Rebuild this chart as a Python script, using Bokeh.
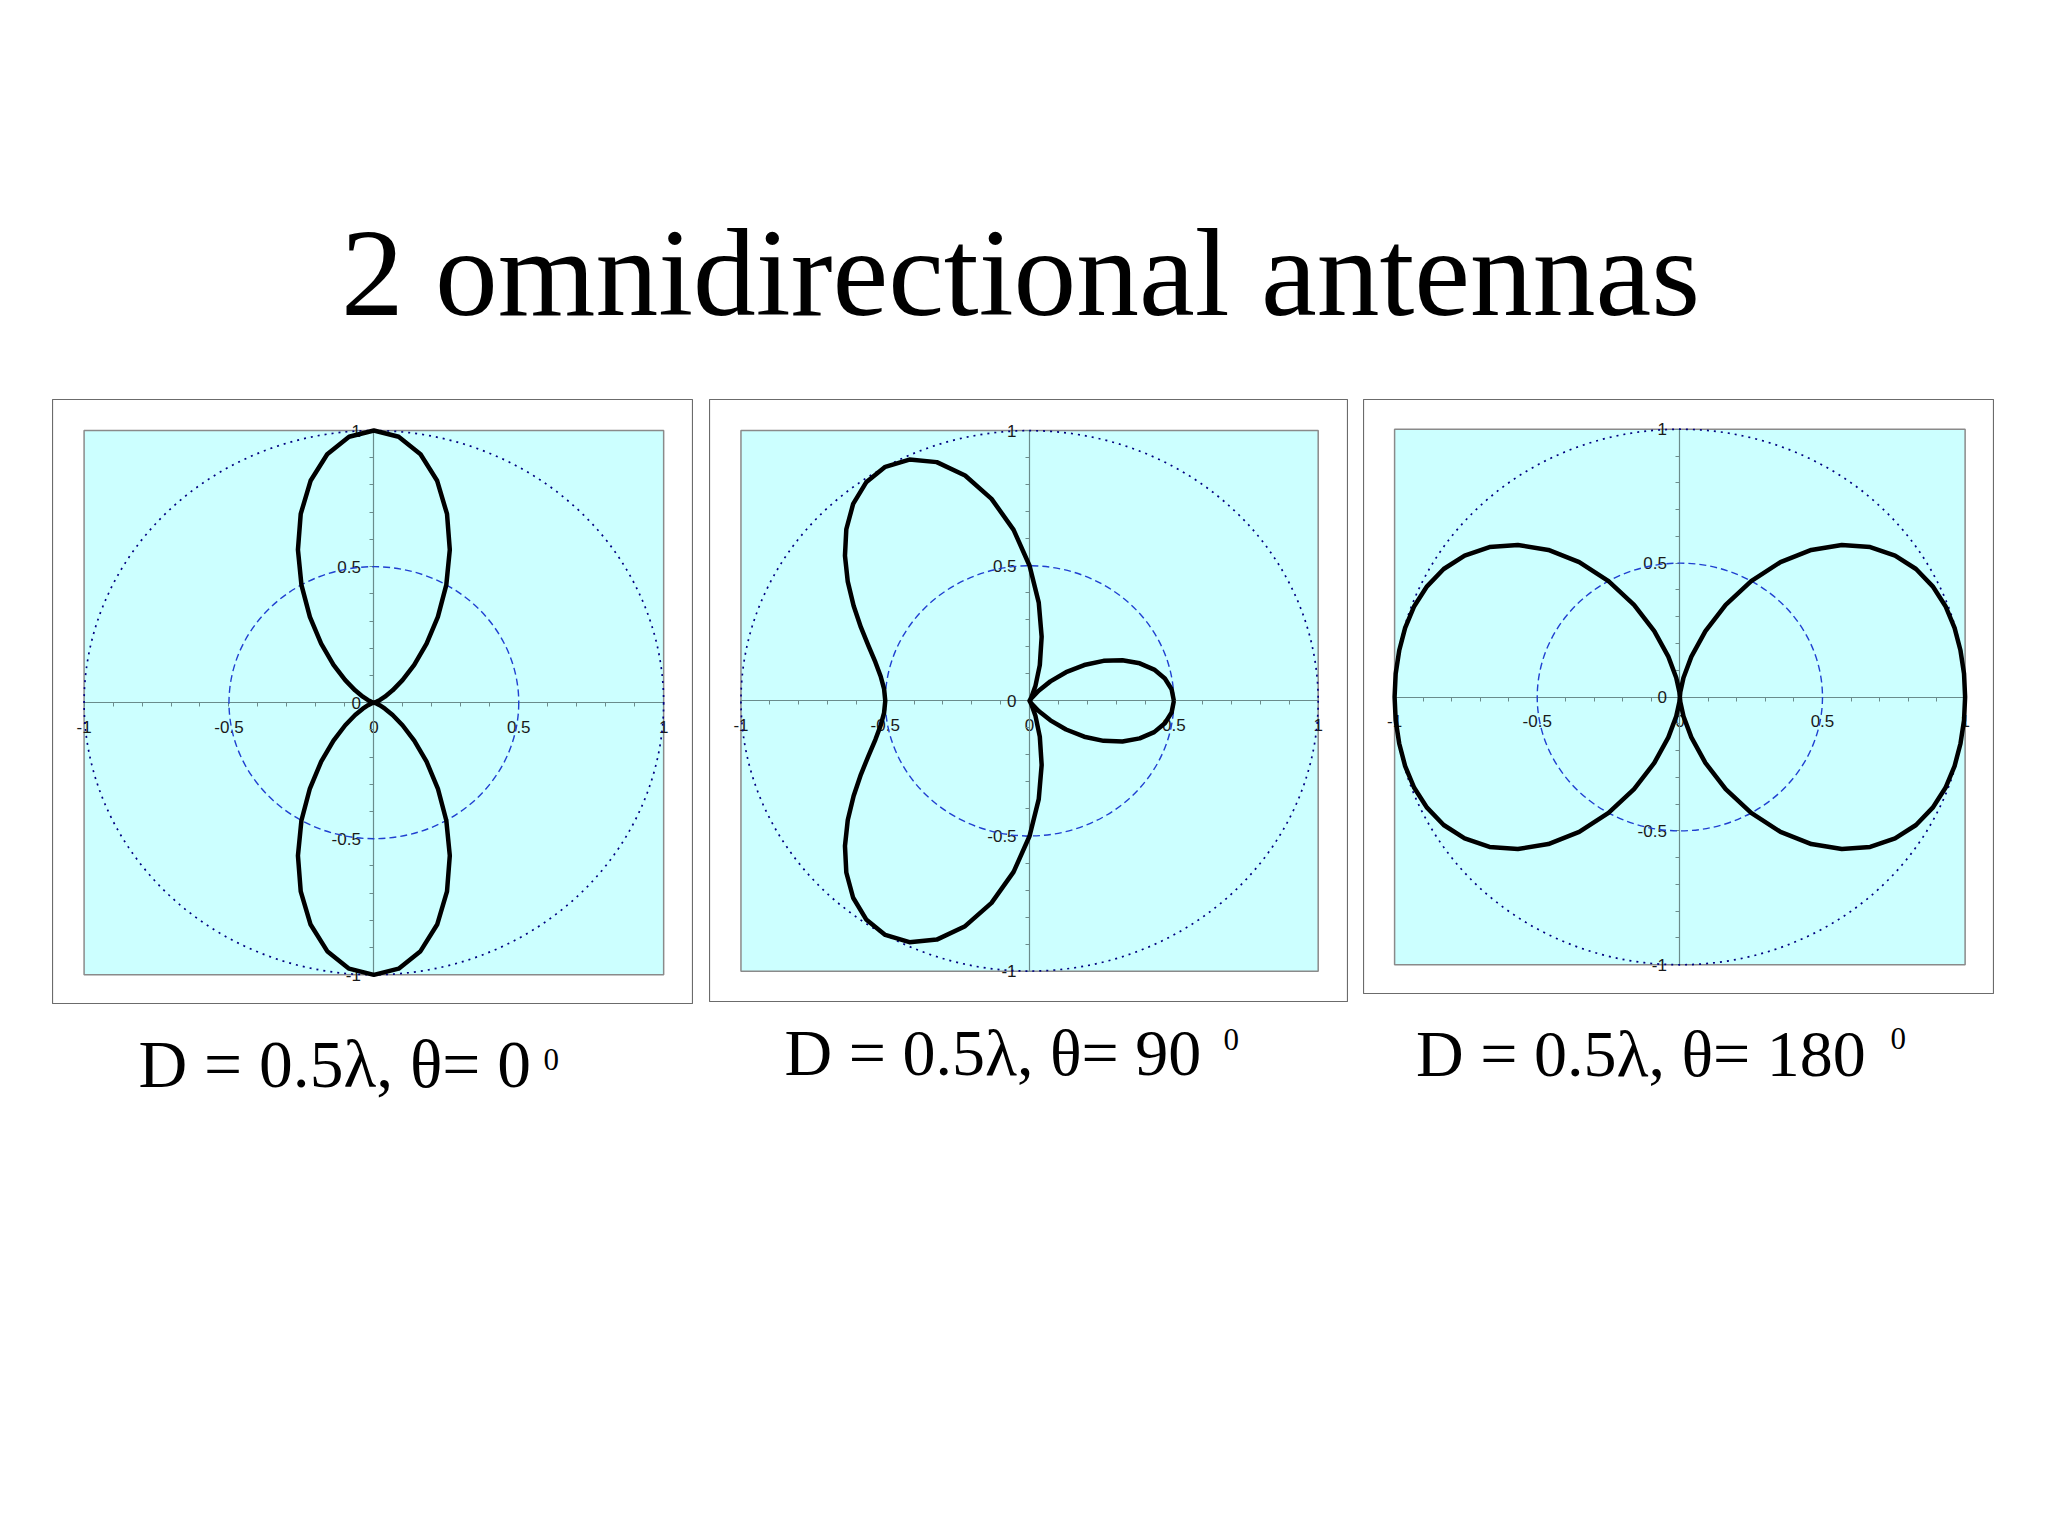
import numpy as np
from bokeh.plotting import figure
from bokeh.models import (LinearAxis, FixedTicker, CustomJSTickFormatter,
                          Range1d, Label, Spacer)
from bokeh.layouts import column, row
from bokeh.embed import file_html
from bokeh.resources import INLINE

# ---------------- data ----------------
angles_deg = list(range(0, 361, 5))

# pattern radius, D = 0.5 lambda, theta = 0 deg
r_theta0 = [0.000, 0.000, 0.001, 0.003, 0.009, 0.022, 0.044, 0.079, 0.129, 0.197,
            0.283, 0.385, 0.500, 0.620, 0.738, 0.844, 0.927, 0.981, 1.000,
            0.981, 0.927, 0.844, 0.738, 0.620, 0.500, 0.385, 0.283, 0.197, 0.129,
            0.079, 0.044, 0.022, 0.009, 0.003, 0.001, 0.000, 0.000,
            0.000, 0.001, 0.003, 0.009, 0.022, 0.044, 0.079, 0.129, 0.197,
            0.283, 0.385, 0.500, 0.620, 0.738, 0.844, 0.927, 0.981, 1.000,
            0.981, 0.927, 0.844, 0.738, 0.620, 0.500, 0.385, 0.283, 0.197, 0.129,
            0.079, 0.044, 0.022, 0.009, 0.003, 0.001, 0.000, 0.000]

# pattern radius, D = 0.5 lambda, theta = 90 deg
r_theta90 = [0.500, 0.494, 0.476, 0.447, 0.406, 0.355, 0.296, 0.231, 0.165, 0.102,
             0.049, 0.013, 0.000, 0.015, 0.060, 0.137, 0.241, 0.365, 0.500,
             0.635, 0.759, 0.863, 0.940, 0.985, 1.000, 0.987, 0.951, 0.898, 0.835,
             0.769, 0.704, 0.645, 0.594, 0.553, 0.524, 0.506, 0.500,
             0.506, 0.524, 0.553, 0.594, 0.645, 0.704, 0.769, 0.835, 0.898,
             0.951, 0.987, 1.000, 0.985, 0.940, 0.863, 0.759, 0.635, 0.500,
             0.365, 0.241, 0.137, 0.060, 0.015, 0.000, 0.013, 0.049, 0.102, 0.165,
             0.231, 0.296, 0.355, 0.406, 0.447, 0.476, 0.494, 0.500]

# pattern radius, D = 0.5 lambda, theta = 180 deg
r_theta180 = [1.000, 1.000, 0.999, 0.997, 0.991, 0.978, 0.956, 0.921, 0.871, 0.803,
              0.717, 0.615, 0.500, 0.380, 0.262, 0.156, 0.073, 0.019, 0.000,
              0.019, 0.073, 0.156, 0.262, 0.380, 0.500, 0.615, 0.717, 0.803, 0.871,
              0.921, 0.956, 0.978, 0.991, 0.997, 0.999, 1.000, 1.000,
              1.000, 0.999, 0.997, 0.991, 0.978, 0.956, 0.921, 0.871, 0.803,
              0.717, 0.615, 0.500, 0.380, 0.262, 0.156, 0.073, 0.019, 0.000,
              0.019, 0.073, 0.156, 0.262, 0.380, 0.500, 0.615, 0.717, 0.803, 0.871,
              0.921, 0.956, 0.978, 0.991, 0.997, 0.999, 1.000, 1.000]

ring_radii = [1.0, 0.5]
tick_values = [-1, -0.5, 0, 0.5, 1]
minor_tick_values = [-0.9, -0.8, -0.7, -0.6, -0.4, -0.3, -0.2, -0.1,
                     0.1, 0.2, 0.3, 0.4, 0.6, 0.7, 0.8, 0.9]

title_text = "2 omnidirectional antennas"
label_main = ["D = 0.5\u03bb, \u03b8= 0", "D = 0.5\u03bb, \u03b8= 90", "D = 0.5\u03bb, \u03b8= 180"]
label_sup = ["0", "0", "0"]

# ---------------- layout / style ----------------
PAGE_W = 2040
HEADER_H = 399
FOOTER_H = 200

panel_specs = [
    dict(w=641, h=605, xr=(-1.109, 1.103), yr=(-1.109, 1.114)),
    dict(w=639, h=603, xr=(-1.109, 1.105), yr=(-1.116, 1.115)),
    dict(w=631, h=595, xr=(-1.109, 1.103), yr=(-1.111, 1.111)),
]
gaps = [52, 16, 15]

AXIS_COLOR = "#6a8c8c"
TICK_FONT = "Liberation Sans"
SERIF = "Liberation Serif"


def make_panel(radii, spec):
    p = figure(frame_width=spec["w"], frame_height=spec["h"],
               x_range=Range1d(*spec["xr"]), y_range=Range1d(*spec["yr"]),
               output_backend="svg", toolbar_location=None,
               x_axis_type=None, y_axis_type=None, min_border=0)
    p.outline_line_color = "#6b6b6b"
    p.outline_line_width = 1.2
    p.background_fill_color = "white"
    p.border_fill_color = "white"

    # plot area
    p.quad(left=[tick_values[0]], right=[tick_values[-1]],
           bottom=[tick_values[0]], top=[tick_values[-1]],
           fill_color="#CCFFFF", line_color="#8a8a8a", line_width=1.5,
           level="image")

    fmt = CustomJSTickFormatter(code="return String(tick);")
    xa = LinearAxis(fixed_location=0, bounds=(tick_values[0], tick_values[-1]),
                    ticker=FixedTicker(ticks=tick_values, minor_ticks=minor_tick_values),
                    formatter=fmt)
    ya = LinearAxis(fixed_location=0, bounds=(tick_values[0], tick_values[-1]),
                    ticker=FixedTicker(ticks=tick_values, minor_ticks=minor_tick_values),
                    formatter=fmt)
    for ax in (xa, ya):
        ax.axis_line_color = AXIS_COLOR
        ax.axis_line_width = 1.2
        ax.major_tick_line_color = AXIS_COLOR
        ax.minor_tick_line_color = AXIS_COLOR
        ax.major_tick_in = 0
        ax.major_tick_out = 4
        ax.minor_tick_in = 0
        ax.minor_tick_out = 4
        ax.major_label_text_font = TICK_FONT
        ax.major_label_text_font_size = "17px"
        ax.major_label_text_color = "#1a1a1a"
        ax.level = "underlay"
    xa.major_label_standoff = 14
    ya.major_label_standoff = 9
    p.add_layout(xa, "below")
    p.add_layout(ya, "left")

    # reference rings
    p.ellipse(x=0, y=0, width=2 * ring_radii[0], height=2 * ring_radii[0],
              fill_color=None, line_color="#000080", line_width=1.7,
              line_dash="2 5")
    p.ellipse(x=0, y=0, width=2 * ring_radii[1], height=2 * ring_radii[1],
              fill_color=None, line_color="#2040d0", line_width=1.4,
              line_dash="7 4")

    th = np.deg2rad(np.array(angles_deg, dtype=float))
    r = np.array(radii, dtype=float)
    p.line(r * np.cos(th), r * np.sin(th), line_color="black",
           line_width=4.5, line_join="round")
    return p


panels = [make_panel(rr, s) for rr, s in
          zip([r_theta0, r_theta90, r_theta180], panel_specs)]

# header with title
header = figure(width=PAGE_W, height=HEADER_H, x_range=Range1d(0, PAGE_W),
                y_range=Range1d(HEADER_H, 0), output_backend="svg",
                toolbar_location=None, x_axis_type=None, y_axis_type=None,
                min_border=0)
header.outline_line_color = None
header.add_layout(Label(x=1020, y=272, text=title_text, text_align="center",
                        text_baseline="alphabetic", text_font=SERIF,
                        text_font_size="125.5px", text_color="black"))

# footer with panel captions
footer = figure(width=PAGE_W, height=FOOTER_H, x_range=Range1d(0, PAGE_W),
                y_range=Range1d(FOOTER_H, 0), output_backend="svg",
                toolbar_location=None, x_axis_type=None, y_axis_type=None,
                min_border=0)
footer.outline_line_color = None
main_pos = [(138, 60.4, "67.5px"), (784, 48.4, "66px"), (1415.5, 49.4, "66px")]
sup_pos = [(543, 54.5), (1223, 34.5), (1890, 33.5)]
for txt, sup, (mx, my, fs), (sx, sy) in zip(label_main, label_sup, main_pos, sup_pos):
    footer.add_layout(Label(x=mx, y=my, text=txt, text_align="left",
                            text_baseline="alphabetic", text_font=SERIF,
                            text_font_size=fs, text_color="black"))
    footer.add_layout(Label(x=sx, y=sy, text=sup, text_align="left",
                            text_baseline="alphabetic", text_font=SERIF,
                            text_font_size="31px", text_color="black"))

mid = row(Spacer(width=gaps[0], height=1), panels[0],
          Spacer(width=gaps[1], height=1), panels[1],
          Spacer(width=gaps[2], height=1), panels[2])

layout = column(header, mid, footer)

open("out.html", "w").write(file_html(layout, INLINE))
